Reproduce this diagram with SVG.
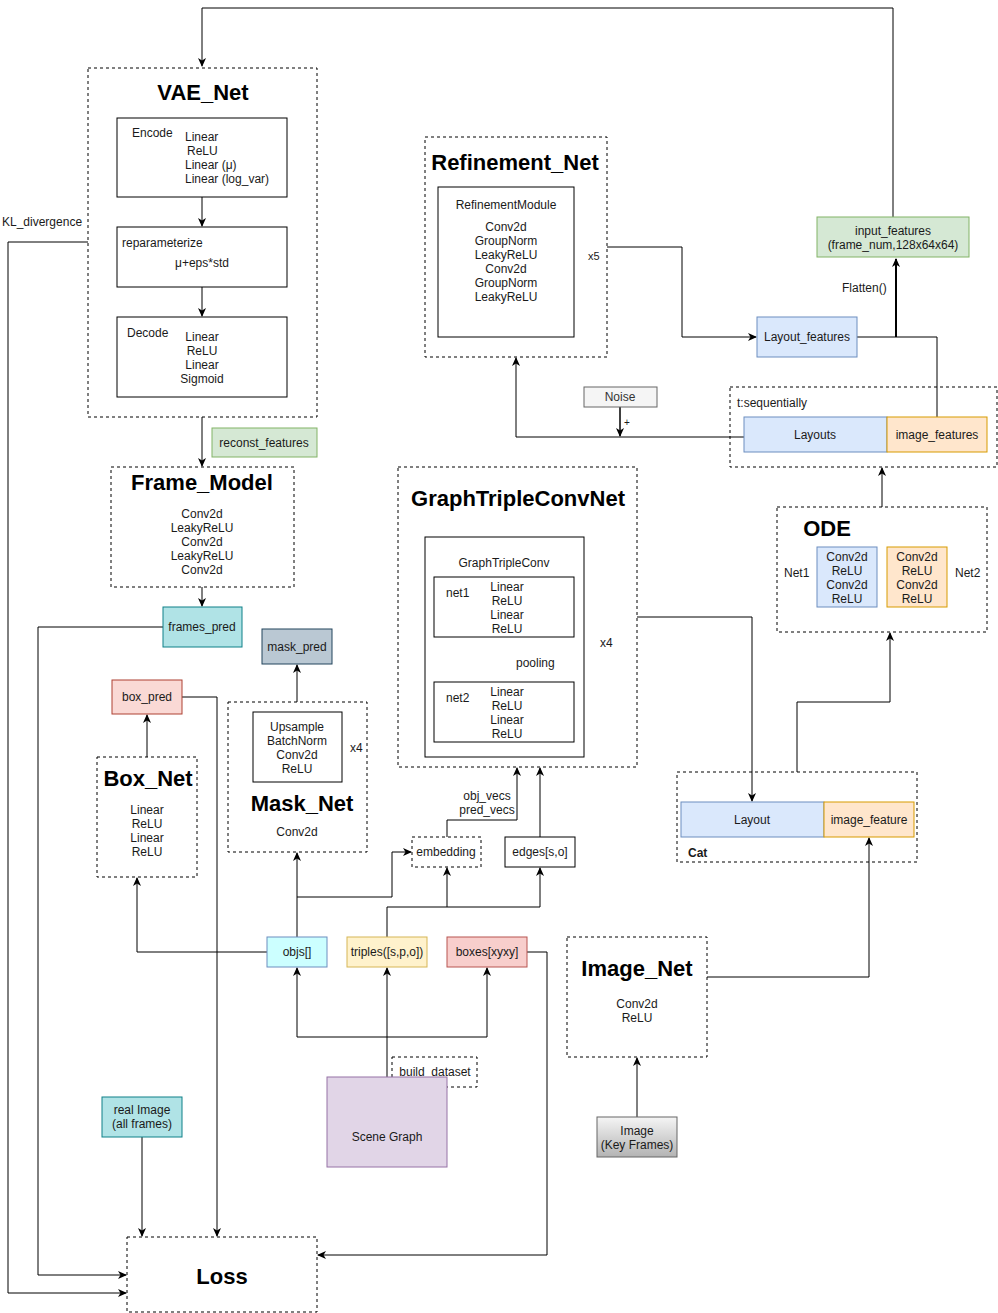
<svg xmlns="http://www.w3.org/2000/svg" width="998" height="1313" viewBox="0 0 998 1313">
<defs>
<marker id="a" markerWidth="10" markerHeight="10" refX="8" refY="5" orient="auto" markerUnits="userSpaceOnUse"><path d="M0,1 L9,5 L0,9 L2.5,5 z" fill="#000"/></marker>
<linearGradient id="g" x1="0" y1="0" x2="0" y2="1"><stop offset="0" stop-color="#f5f5f5"/><stop offset="1" stop-color="#b3b3b3"/></linearGradient>
<style>
text{font-family:"Liberation Sans",Arial,sans-serif;font-size:12px;fill:#1a1a1a}
.t{font-size:22px;font-weight:bold;fill:#000}
.c{text-anchor:middle}
.d{fill:none;stroke:#000;stroke-dasharray:3,3;stroke-width:1}
.s{fill:#fff;stroke:#000;stroke-width:1}
.blue{fill:#dae8fc;stroke:#6c8ebf}
.org{fill:#ffe6cc;stroke:#d79b00}
.grn{fill:#d5e8d4;stroke:#82b366}
.teal{fill:#b0e3e6;stroke:#0e8088}
.red{fill:#fad9d5;stroke:#ae4132}
#conn path{fill:none;stroke:#000;stroke-width:1}
</style>
</defs>
<rect width="998" height="1313" fill="#fff"/>
<g id="conn">
<path d="M893,217 V8 H202 V66" marker-end="url(#a)"/>
<path d="M202,197 V226" marker-end="url(#a)"/>
<path d="M202,287 V316" marker-end="url(#a)"/>
<path d="M88,242 H8 V1293 H126" marker-end="url(#a)"/>
<path d="M202,417 V466" marker-end="url(#a)"/>
<path d="M202,587 V606" marker-end="url(#a)"/>
<path d="M163,627 H38 V1275 H126" marker-end="url(#a)"/>
<path d="M182,697 H217 V1236" marker-end="url(#a)"/>
<path d="M147,757 V715" marker-end="url(#a)"/>
<path d="M297,702 V665" marker-end="url(#a)"/>
<path d="M267,952 H137 V878" marker-end="url(#a)"/>
<path d="M297,937 V853" marker-end="url(#a)"/>
<path d="M297,897 H392 V852 H411" marker-end="url(#a)"/>
<path d="M387,937 V907 H540 V868" marker-end="url(#a)"/>
<path d="M447,907 V868" marker-end="url(#a)"/>
<path d="M527,952 H547 V1255 H318" marker-end="url(#a)"/>
<path d="M447,837 V820 H517 V768" marker-end="url(#a)"/>
<path d="M540,837 V768" marker-end="url(#a)"/>
<path d="M504,637 V681" marker-end="url(#a)"/>
<path d="M637,617 H752 V801" marker-end="url(#a)"/>
<path d="M797,772 V702 H890 V633" marker-end="url(#a)"/>
<path d="M707,977 H869 V838" marker-end="url(#a)"/>
<path d="M637,1117 V1058" marker-end="url(#a)"/>
<path d="M882,507 V468" marker-end="url(#a)"/>
<path d="M744,437 H516 V358" marker-end="url(#a)"/>
<path d="M620,407 V436" marker-end="url(#a)" style="stroke-width:1.5"/>
<path d="M937,417 V337 H857"/>
<path d="M896,337 V259" marker-end="url(#a)" style="stroke-width:2"/>
<path d="M607,247 H682 V337 H756" marker-end="url(#a)"/>
<path d="M387,1077 V968" marker-end="url(#a)"/>
<path d="M297,1037 H487 V968" marker-end="url(#a)"/>
<path d="M297,1037 V968" marker-end="url(#a)"/>
<path d="M142,1137 V1236" marker-end="url(#a)"/>
</g>
<text x="2" y="226">KL_divergence</text>
<g id="vae">
<rect class="d" x="88" y="68" width="229" height="349"/>
<text class="t c" x="203" y="100">VAE_Net</text>
<rect class="s" x="117" y="118" width="170" height="79"/>
<text x="132" y="137">Encode</text>
<text x="185" y="141">Linear</text><text x="187" y="155">ReLU</text><text x="185" y="169">Linear (μ)</text><text x="185" y="183">Linear (log_var)</text>
<rect class="s" x="117" y="227" width="170" height="60"/>
<text x="122" y="247">reparameterize</text>
<text class="c" x="202" y="267">μ+eps*std</text>
<rect class="s" x="117" y="317" width="170" height="80"/>
<text x="127" y="337">Decode</text>
<text class="c" x="202" y="341">Linear</text><text class="c" x="202" y="355">ReLU</text><text class="c" x="202" y="369">Linear</text><text class="c" x="202" y="383">Sigmoid</text>
</g>
<g id="reconst"><rect class="grn" x="212" y="428" width="105" height="29"/><text class="c" x="264" y="447">reconst_features</text></g>
<g id="frame">
<rect class="d" x="111" y="467" width="183" height="120"/>
<text class="t c" x="202" y="490">Frame_Model</text>
<text class="c" x="202" y="518">Conv2d</text><text class="c" x="202" y="532">LeakyReLU</text><text class="c" x="202" y="546">Conv2d</text><text class="c" x="202" y="560">LeakyReLU</text><text class="c" x="202" y="574">Conv2d</text>
</g>
<g id="framespred"><rect class="teal" x="163" y="607" width="79" height="40"/><text class="c" x="202" y="631">frames_pred</text></g>
<g id="maskpred"><rect x="262" y="629" width="70" height="35" fill="#bac8d3" stroke="#23445d"/><text class="c" x="297" y="651">mask_pred</text></g>
<g id="boxpred"><rect class="red" x="112" y="680" width="70" height="34"/><text class="c" x="147" y="701">box_pred</text></g>
<g id="masknet">
<rect class="d" x="228" y="702" width="139" height="150"/>
<rect class="s" x="253" y="712" width="89" height="70"/>
<text class="c" x="297" y="731">Upsample</text><text class="c" x="297" y="745">BatchNorm</text><text class="c" x="297" y="759">Conv2d</text><text class="c" x="297" y="773">ReLU</text>
<text x="350" y="752">x4</text>
<text class="t c" x="302" y="811">Mask_Net</text>
<text class="c" x="297" y="836">Conv2d</text>
</g>
<g id="boxnet">
<rect class="d" x="97" y="757" width="100" height="120"/>
<text class="t c" x="148" y="786">Box_Net</text>
<text class="c" x="147" y="814">Linear</text><text class="c" x="147" y="828">ReLU</text><text class="c" x="147" y="842">Linear</text><text class="c" x="147" y="856">ReLU</text>
</g>
<g id="objs"><rect x="267" y="937" width="60" height="30" fill="#ccffff" stroke="#6c8ebf"/><text class="c" x="297" y="956">objs[]</text></g>
<g id="triples"><rect x="347" y="937" width="80" height="30" fill="#fff2cc" stroke="#d6b656"/><text class="c" x="387" y="956">triples([s,p,o])</text></g>
<g id="boxes"><rect x="447" y="937" width="80" height="30" fill="#f8cecc" stroke="#b85450"/><text class="c" x="487" y="956">boxes[xyxy]</text></g>
<g id="embedding"><rect class="d" x="412" y="837" width="69" height="30"/><text class="c" x="446" y="856">embedding</text></g>
<g id="edges"><rect class="s" x="505" y="837" width="70" height="30"/><text class="c" x="540" y="856">edges[s,o]</text></g>
<text class="c" x="487" y="800">obj_vecs</text><text class="c" x="487" y="814">pred_vecs</text>
<g id="gtcn">
<rect class="d" x="398" y="467" width="239" height="300"/>
<text class="t c" x="518" y="506">GraphTripleConvNet</text>
<rect class="s" x="425" y="537" width="159" height="220"/>
<text class="c" x="504" y="567">GraphTripleConv</text>
<rect class="s" x="434" y="577" width="140" height="60"/>
<text x="446" y="597">net1</text>
<text class="c" x="507" y="591">Linear</text><text class="c" x="507" y="605">ReLU</text><text class="c" x="507" y="619">Linear</text><text class="c" x="507" y="633">ReLU</text>
<text x="516" y="667">pooling</text>
<rect class="s" x="434" y="682" width="140" height="60"/>
<text x="446" y="702">net2</text>
<text class="c" x="507" y="696">Linear</text><text class="c" x="507" y="710">ReLU</text><text class="c" x="507" y="724">Linear</text><text class="c" x="507" y="738">ReLU</text>
<text x="600" y="647">x4</text>
</g>
<g id="cat">
<rect class="d" x="677" y="772" width="240" height="90"/>
<rect class="blue" x="681" y="802" width="143" height="35"/><text class="c" x="752" y="824">Layout</text>
<rect class="org" x="824" y="802" width="90" height="35"/><text class="c" x="869" y="824">image_feature</text>
<text x="688" y="857" style="font-weight:bold">Cat</text>
</g>
<g id="imagenet">
<rect class="d" x="567" y="937" width="140" height="120"/>
<text class="t c" x="637" y="976">Image_Net</text>
<text class="c" x="637" y="1008">Conv2d</text><text class="c" x="637" y="1022">ReLU</text>
</g>
<g id="image"><rect x="597" y="1117" width="80" height="40" fill="url(#g)" stroke="#666"/><text class="c" x="637" y="1135">Image</text><text class="c" x="637" y="1149">(Key Frames)</text></g>
<g id="ode">
<rect class="d" x="777" y="507" width="210" height="125"/>
<text class="t c" x="827" y="536">ODE</text>
<rect class="blue" x="817" y="547" width="60" height="60"/>
<text class="c" x="847" y="561">Conv2d</text><text class="c" x="847" y="575">ReLU</text><text class="c" x="847" y="589">Conv2d</text><text class="c" x="847" y="603">ReLU</text>
<rect class="org" x="887" y="547" width="60" height="60"/>
<text class="c" x="917" y="561">Conv2d</text><text class="c" x="917" y="575">ReLU</text><text class="c" x="917" y="589">Conv2d</text><text class="c" x="917" y="603">ReLU</text>
<text x="784" y="577">Net1</text><text x="955" y="577">Net2</text>
</g>
<g id="seq">
<rect class="d" x="730" y="387" width="267" height="80"/>
<text x="737" y="407">t:sequentially</text>
<rect class="blue" x="744" y="417" width="143" height="35"/><text class="c" x="815" y="439">Layouts</text>
<rect class="org" x="887" y="417" width="100" height="35"/><text class="c" x="937" y="439">image_features</text>
</g>
<g id="noise"><rect x="584" y="387" width="73" height="20" fill="#f5f5f5" stroke="#666"/><text class="c" x="620" y="401" style="fill:#333">Noise</text></g>
<text x="624" y="426" style="font-size:10px">+</text>
<g id="layoutfeat"><rect class="blue" x="757" y="317" width="100" height="40"/><text class="c" x="807" y="341">Layout_features</text></g>
<text x="842" y="292">Flatten()</text>
<g id="input"><rect class="grn" x="817" y="217" width="152" height="40"/><text class="c" x="893" y="235">input_features</text><text class="c" x="893" y="249">(frame_num,128x64x64)</text></g>
<g id="refine">
<rect class="d" x="425" y="137" width="182" height="220"/>
<text class="t c" x="515" y="170">Refinement_Net</text>
<rect class="s" x="438" y="187" width="136" height="150"/>
<text class="c" x="506" y="209">RefinementModule</text>
<text class="c" x="506" y="231">Conv2d</text><text class="c" x="506" y="245">GroupNorm</text><text class="c" x="506" y="259">LeakyReLU</text><text class="c" x="506" y="273">Conv2d</text><text class="c" x="506" y="287">GroupNorm</text><text class="c" x="506" y="301">LeakyReLU</text>
<text x="588" y="260" style="font-size:11px">x5</text>
</g>
<g id="build"><rect class="d" x="392" y="1057" width="85" height="30"/><text class="c" x="435" y="1076">build_dataset</text></g>
<g id="scene"><rect x="327" y="1077" width="120" height="90" fill="#e1d5e7" stroke="#9673a6"/><text class="c" x="387" y="1141">Scene Graph</text></g>
<g id="real"><rect class="teal" x="102" y="1097" width="80" height="40"/><text class="c" x="142" y="1114">real Image</text><text class="c" x="142" y="1128">(all frames)</text></g>
<g id="loss"><rect class="d" x="127" y="1237" width="190" height="75"/><text class="t c" x="222" y="1284">Loss</text></g>
</svg>
